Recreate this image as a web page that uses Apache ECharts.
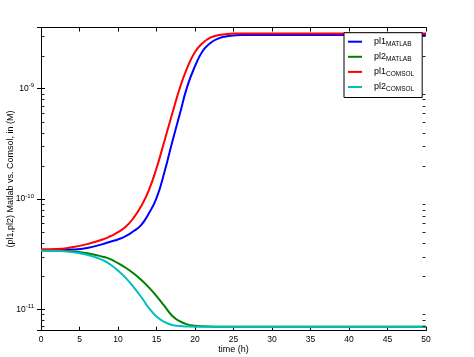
<!DOCTYPE html>
<html><head><meta charset="utf-8">
<script src="https://cdn.jsdelivr.net/npm/echarts@6/dist/echarts.min.js"></script>
<style>html,body{margin:0;padding:0;background:#fff}#c{width:474px;height:357px}</style>
</head><body><div id="c"></div>
<script>
// time (h)
const time = [0,2,4,6,8,9,10,11,12,13,14,15,16,17,18,19,20,21,22,23,24,25,26,30,40,50];
// pl1 MATLAB (M)
const pl1Matlab = [3.45e-11,3.45e-11,3.48e-11,3.6e-11,3.9e-11,4.1e-11,4.3e-11,4.6e-11,5.1e-11,5.8e-11,7.4e-11,1.02e-10,1.72e-10,3.2e-10,5.8e-10,1.05e-9,1.6e-9,2.2e-9,2.6e-9,2.85e-9,2.98e-9,3.04e-9,3.07e-9,3.07e-9,3.07e-9,3.07e-9];
// pl2 MATLAB (M)
const pl2Matlab = [3.4e-11,3.4e-11,3.35e-11,3.22e-11,3.0e-11,2.85e-11,2.62e-11,2.38e-11,2.12e-11,1.85e-11,1.58e-11,1.32e-11,1.08e-11,8.8e-12,7.8e-12,7.3e-12,7.1e-12,7.02e-12,6.98e-12,6.95e-12,6.95e-12,6.95e-12,6.95e-12,6.95e-12,6.95e-12,6.95e-12];
// pl1 COMSOL (M)
const pl1Comsol = [3.5e-11,3.52e-11,3.65e-11,3.9e-11,4.3e-11,4.6e-11,5.0e-11,5.6e-11,6.7e-11,8.6e-11,1.2e-10,1.9e-10,3.3e-10,5.8e-10,1.0e-9,1.55e-9,2.15e-9,2.6e-9,2.9e-9,3.05e-9,3.12e-9,3.16e-9,3.17e-9,3.17e-9,3.17e-9,3.17e-9];
// pl2 COMSOL (M)
const pl2Comsol = [3.4e-11,3.38e-11,3.3e-11,3.12e-11,2.8e-11,2.55e-11,2.25e-11,1.93e-11,1.6e-11,1.3e-11,1.03e-11,8.6e-12,7.7e-12,7.2e-12,7.05e-12,6.98e-12,6.95e-12,6.95e-12,6.95e-12,6.95e-12,6.95e-12,6.95e-12,6.95e-12,6.95e-12,6.95e-12,6.95e-12];

const seriesNames = ['pl1_MATLAB','pl2_MATLAB','pl1_COMSOL','pl2_COMSOL'];
const seriesColors = ['#0000ff','#008000','#ff0000','#00bfbf'];
const xTicks = [0,5,10,15,20,25,30,35,40,45,50];
const yMin = 6.4e-12, yMax = 3.59e-9;
const minorTicks = [7e-12,8e-12,9e-12,2e-11,3e-11,4e-11,5e-11,6e-11,7e-11,8e-11,9e-11,2e-10,3e-10,4e-10,5e-10,6e-10,7e-10,8e-10,9e-10,2e-9,3e-9];

const FONT = '"Liberation Sans", Arial, Helvetica, sans-serif';
const values = [pl1Matlab, pl2Matlab, pl1Comsol, pl2Comsol];

const chart = echarts.init(document.getElementById('c'), null, {renderer:'canvas'});

const yLabelFmt = v => {
  const e = Math.log10(v);
  const r = Math.round(e);
  if (Math.abs(e - r) > 1e-6) return '';
  return '{b|10}{s|' + r + '}';
};
const yRich = {
  b: {fontSize: 8.5, fontFamily: FONT, color: '#000'},
  s: {fontSize: 6, fontFamily: FONT, color: '#000', padding: [0,0,6,0]}
};

const lineSeries = seriesNames.map((n, i) => ({
  name: n, type: 'line', xAxisIndex: 0, yAxisIndex: 0,
  data: time.map((t, k) => [t, values[i][k]]),
  showSymbol: false, symbol: 'none', smooth: 0.5,
  lineStyle: {color: seriesColors[i], width: 2},
  itemStyle: {color: seriesColors[i]},
  z: 3, animation: false
}));

// minor log ticks on both sides, drawn at the grid edges through the y scale
const minorSeries = {
  type: 'custom', xAxisIndex: 0, yAxisIndex: 0, silent: true, z: 10, clip: false,
  encode: {x: 0, y: 1},
  data: minorTicks.map(v => [xTicks[xTicks.length-1], v]),
  renderItem: (params, api) => {
    const p = api.coord([api.value(0), api.value(1)]);
    const cs = params.coordSys;
    const y = Math.round(p[1]) + 0.5;
    const xl = Math.round(cs.x) + 0.5;
    const xr = Math.round(cs.x + cs.width) - 0.5;
    return {type: 'group', children: [
      {type: 'line', z2: 10, shape: {x1: xl, y1: y, x2: xl + 3, y2: y}, style: {stroke: '#222', lineWidth: 1}},
      {type: 'line', z2: 10, shape: {x1: xr, y1: y, x2: xr - 3, y2: y}, style: {stroke: '#222', lineWidth: 1}}
    ]};
  },
  animation: false
};

const axisCommon = {
  axisLine: {show: true, lineStyle: {color: '#000', width: 1}},
  axisTick: {show: true, inside: true, length: 4, lineStyle: {color: '#000', width: 1}},
  splitLine: {show: false},
  minorTick: {show: false}
};

chart.setOption({
  animation: false,
  backgroundColor: '#fff',
  textStyle: {fontFamily: FONT},
  grid: {left: 41, right: 48, top: 27.5, bottom: 26.3, containLabel: false, outerBoundsMode: 'none'},
  legend: {
    data: seriesNames,
    orient: 'vertical',
    left: 344, top: 32.7,
    padding: [4.5, 8, 4.5, 4],
    itemGap: 4.6,
    itemWidth: 14, itemHeight: 2,
    icon: 'rect',
    backgroundColor: '#fff',
    borderColor: '#000', borderWidth: 1,
    formatter: name => {
      const p = name.split('_');
      return '{b|' + p[0] + '}{s|' + p[1] + '}';
    },
    textStyle: {
      color: '#000',
      rich: {
        b: {fontSize: 9, fontFamily: FONT, color: '#000', lineHeight: 12, padding: [0,0,0,7]},
        s: {fontSize: 6.5, fontFamily: FONT, color: '#000', verticalAlign: 'bottom', lineHeight: 8}
      }
    },
    selectedMode: false
  },
  xAxis: [
    Object.assign({}, axisCommon, {
      type: 'value', position: 'bottom', min: xTicks[0], max: xTicks[xTicks.length-1], interval: 5,
      name: 'time (h)', nameLocation: 'middle', nameGap: 14, nameMoveOverlap: false,
      nameTextStyle: {fontSize: 9, fontFamily: FONT, color: '#000'},
      axisLabel: {show: true, margin: 4, fontSize: 8.5, fontFamily: FONT, color: '#000'}
    }),
    Object.assign({}, axisCommon, {
      type: 'value', position: 'top', min: xTicks[0], max: xTicks[xTicks.length-1], interval: 5,
      axisLabel: {show: false}
    })
  ],
  yAxis: [
    Object.assign({}, axisCommon, {
      type: 'log', logBase: 10, position: 'left', min: yMin, max: yMax,
      name: '(pl1,pl2) Matlab vs. Comsol, in (M)', nameLocation: 'middle', nameGap: 26, nameRotate: 90,
      nameMoveOverlap: false,
      nameTextStyle: {fontSize: 9, fontFamily: FONT, color: '#000'},
      axisLabel: {show: true, margin: 7, formatter: yLabelFmt, rich: yRich, showMinLabel: false, showMaxLabel: false}
    }),
    Object.assign({}, axisCommon, {
      type: 'log', logBase: 10, position: 'right', min: yMin, max: yMax,
      axisLabel: {show: false}
    })
  ],
  series: lineSeries.concat([minorSeries])
});
</script>
</body></html>
